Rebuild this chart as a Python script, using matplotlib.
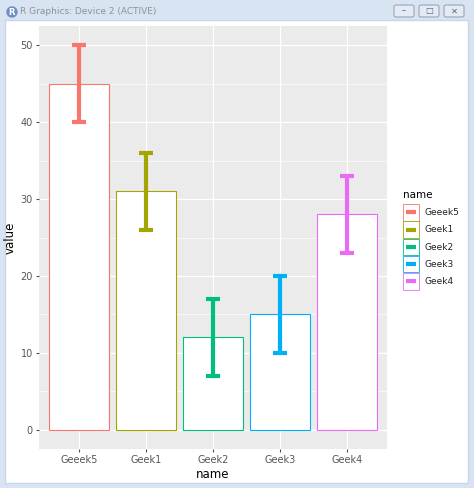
import numpy as np
import matplotlib.pyplot as plt
from matplotlib.patches import Rectangle, FancyBboxPatch
from matplotlib.lines import Line2D

# data
names = ["Geeek5", "Geek1", "Geek2", "Geek3", "Geek4"]
values = [45, 31, 12, 15, 28]
errors = [5, 5, 5, 5, 5]
colors = ["#F8766D", "#A3A500", "#00BF7D", "#00B0F6", "#E76BF3"]

W, H = 474, 488
fig = plt.figure(figsize=(W / 100, H / 100), dpi=100)
fig.patch.set_facecolor("#d9e4f2")

def px_axes(x0, y0, x1, y1, **kw):
    # pixel box (top-left origin) -> figure axes
    return fig.add_axes([x0 / W, 1 - y1 / H, (x1 - x0) / W, (y1 - y0) / H], **kw)

# window chrome
bg = px_axes(0, 0, W, H)
bg.set_xlim(0, W)
bg.set_ylim(H, 0)
bg.axis("off")
bg.add_patch(Rectangle((5, 20), 463, 463, facecolor="white", edgecolor="#c9d6e6", lw=1))
bg.add_patch(plt.Circle((12, 12), 5, color="#6d8fc4"))
bg.text(12, 12.5, "R", color="white", fontsize=6, fontweight="bold", ha="center", va="center")
bg.text(20, 12, "R Graphics: Device 2 (ACTIVE)", color="#8a939e", fontsize=6.5, va="center")
for bx, sym in [(394, "\u2013"), (419, "\u25a1"), (444, "\u2715")]:
    bg.add_patch(FancyBboxPatch((bx, 5), 20, 12, boxstyle="round,pad=0,rounding_size=2",
                                facecolor="#e4ebf4", edgecolor="#98a6b8", lw=0.8))
    bg.text(bx + 10, 11, sym, fontsize=6, ha="center", va="center", color="#5a6573")

# plot panel
ax = px_axes(39, 26, 387, 449)
ax.set_facecolor("#EBEBEB")
x = np.arange(1, len(names) + 1)

ax.bar(x, values, width=0.9, facecolor="white", edgecolor=colors, linewidth=0.8, zorder=3)
ax.errorbar(x, values, yerr=errors, fmt="none", ecolor=colors, elinewidth=3,
            capsize=0, zorder=4)
for xi, v, e, c in zip(x, values, errors, colors):
    for yy in (v - e, v + e):
        ax.plot([xi - 0.1, xi + 0.1], [yy, yy], color=c, lw=3, solid_capstyle="butt", zorder=4)

ax.set_xlim(0.4, 5.6)
ax.set_ylim(-2.5, 52.5)
ax.set_xticks(x)
ax.set_xticklabels(names)
ax.set_yticks([0, 10, 20, 30, 40, 50])
ax.set_yticks([5, 15, 25, 35, 45], minor=True)
ax.grid(which="major", color="white", lw=0.9, zorder=0)
ax.grid(which="minor", axis="y", color="white", lw=0.45, zorder=0)
ax.tick_params(which="major", colors="#4D4D4D", labelcolor="#555555", labelsize=7,
               length=2.5, width=0.8, pad=2)
ax.tick_params(which="minor", length=0)
for s in ax.spines.values():
    s.set_visible(False)
ax.set_axisbelow(True)
ax.set_xlabel("name", fontsize=8.5, labelpad=2)
ax.set_ylabel("value", fontsize=8.5, labelpad=3)

# legend
bg.text(403, 195, "name", fontsize=7.5, va="center", color="black")
for i, (n, c) in enumerate(zip(names, colors)):
    y0 = 204 + i * 17.3
    bg.add_patch(Rectangle((403, y0), 16.5, 16.5, facecolor="white", edgecolor=c, lw=0.6))
    bg.add_line(Line2D([406, 416.5], [y0 + 8.25, y0 + 8.25], color=c, lw=3, solid_capstyle="butt"))
    bg.text(425, y0 + 8.5, n, fontsize=6.5, va="center", color="#222222")

fig.savefig("out.png", dpi=100)
